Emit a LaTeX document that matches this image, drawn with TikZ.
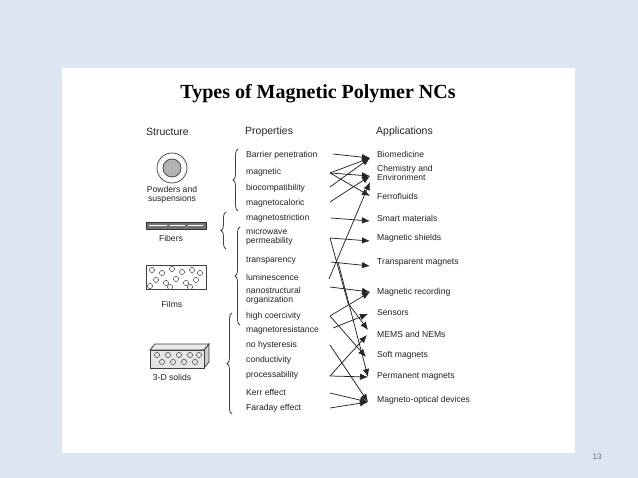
\documentclass[tikz,border=0pt]{standalone}
\usepackage{fontspec}
\setmainfont{Liberation Serif}
\newfontfamily\sansf{Liberation Sans}
\usetikzlibrary{arrows.meta,decorations.pathreplacing}
\definecolor{slidebg}{HTML}{DCE6F2}
\definecolor{txt}{HTML}{222222}
\begin{document}
\begin{tikzpicture}[x=1pt,y=-1pt,
  lbl/.style={font=\sansf\fontsize{8.6}{9}\selectfont,text=txt,anchor=west,inner sep=0,align=left},
  clbl/.style={font=\sansf\fontsize{8.6}{9}\selectfont,text=txt,inner sep=0,align=center},
  hdr/.style={font=\sansf\fontsize{10.5}{12}\selectfont,text=txt,anchor=west,inner sep=0},
  arr/.style={draw=black!85,line width=0.75pt,-{Latex[length=8pt,width=6.5pt]}},
  brc/.style={draw=black!75,line width=0.8pt,decorate,decoration={brace,amplitude=5pt}}]
\useasboundingbox (0,0) rectangle (638,478);
\fill[slidebg] (0,0) rectangle (638,478);
\fill[white] (62,68) rectangle (575,453);
\node (pg) [font=\sansf\fontsize{8}{9}\selectfont,text=black!60] at (597,457) {13};
\node (title) [font=\bfseries\fontsize{20}{24}\selectfont] at (318,94) {Types of Magnetic Polymer NCs};
\node (hs) [hdr] at (146,132) {Structure};
\node (hp) [hdr] at (245,132) {Properties};
\node (ha) [hdr] at (376,132) {Applications};
% icons
\draw[black!70,line width=0.8pt] (172,168) circle (15);
\draw[black!70,fill=black!30,line width=0.8pt] (172,168) circle (9);
\node (ipow) [clbl] at (172,195) {Powders and\\suspensions};
\draw[black!80,fill=black!55] (146,222) rectangle (206,229);
\draw[white,line width=0.6pt] (149,225)--(167,225) (170,225)--(185,225) (188,225)--(203,225);
\node (ifib) [clbl] at (171,238) {Fibers};
\draw[black!75,line width=0.8pt] (146,265) rectangle (206,289);
\foreach \x/\y in {152/270,162/273,172/269,182/272,192/270,200/273,156/280,166/283,176/279,186/283,196/280,150/286,170/287,190/287}
  \draw[black!70,line width=0.5pt] (\x,\y) circle (2.6);
\node (ifil) [clbl] at (172,304) {Films};
\draw[black!75,line width=0.8pt,fill=black!8] (150,350) -- (155,344) -- (209,344) -- (204,350) -- cycle;
\draw[black!75,line width=0.8pt,fill=black!20] (204,350) -- (209,344) -- (209,362) -- (204,368) -- cycle;
\draw[black!75,line width=0.8pt,fill=black!10] (150,350) rectangle (204,368);
\foreach \x/\y in {157/355,168/355,179/355,190/355,199/355,162/362,173/362,184/362,195/362}
  \draw[black!70,line width=0.5pt] (\x,\y) circle (2.6);
\node (isol) [clbl] at (172,377) {3-D solids};
% braces
\draw[brc] (238,211) -- (238,149);
\draw[brc] (226,249) -- (226,212);
\draw[brc] (240,325) -- (240,227);
\draw[brc] (232,414) -- (232,313);
% properties
\node (p1) [lbl] at (246,155) {Barrier penetration};
\node (p2) [lbl] at (246,172) {magnetic};
\node (p3) [lbl] at (246,188) {biocompatibility};
\node (p4) [lbl] at (246,203) {magnetocaloric};
\node (p5) [lbl] at (246,218) {magnetostriction};
\node (p6) [lbl] at (246,237) {microwave\\permeability};
\node (p7) [lbl] at (246,261) {transparency};
\node (p8) [lbl] at (246,277) {luminescence};
\node (p9) [lbl] at (246,296) {nanostructural\\organization};
\node (p10) [lbl] at (246,316) {high coercivity};
\node (p11) [lbl] at (246,330) {magnetoresistance};
\node (p12) [lbl] at (246,345) {no hysteresis};
\node (p13) [lbl] at (246,360) {conductivity};
\node (p14) [lbl] at (246,375) {processability};
\node (p15) [lbl] at (246,392) {Kerr effect};
\node (p16) [lbl] at (246,408) {Faraday effect};
% applications
\node (a1) [lbl] at (377,154) {Biomedicine};
\node (a2) [lbl] at (377,173) {Chemistry and\\Environment};
\node (a3) [lbl] at (377,196) {Ferrofluids};
\node (a4) [lbl] at (377,218) {Smart materials};
\node (a5) [lbl] at (377,238) {Magnetic shields};
\node (a6) [lbl] at (377,262) {Transparent magnets};
\node (a7) [lbl] at (377,292) {Magnetic recording};
\node (a8) [lbl] at (377,313) {Sensors};
\node (a9) [lbl] at (377,334) {MEMS and NEMs};
\node (a10) [lbl] at (377,355) {Soft magnets};
\node (a11) [lbl] at (377,376) {Permanent magnets};
\node (a12) [lbl] at (377,400) {Magneto-optical devices};
% connector end points
\coordinate (s1) at (333,154);
\coordinate (s2) at (330,173);
\coordinate (s3) at (330,187);
\coordinate (s4) at (330,202);
\coordinate (s5) at (331,218);
\coordinate (s6) at (330,238);
\coordinate (s6b) at (329,279);
\coordinate (s7) at (331,262);
\coordinate (s8) at (338,262);
\coordinate (s9) at (330,287);
\coordinate (s10) at (330,316);
\coordinate (s11) at (333,328);
\coordinate (s12) at (330,345);
\coordinate (s13) at (330,376);
\coordinate (s14) at (330,393);
\coordinate (s15) at (330,408);
\coordinate (t1) at (370,158);
\coordinate (t2) at (370,176);
\coordinate (t2b) at (370,182);
\coordinate (t3) at (370,196);
\coordinate (t4) at (370,221);
\coordinate (t5) at (370,241);
\coordinate (t6) at (370,266);
\coordinate (t7) at (370,292);
\coordinate (t8) at (368,314);
\coordinate (t9) at (368,330);
\coordinate (t9b) at (367,335);
\coordinate (t10) at (366,357);
\coordinate (t11) at (368,377);
\coordinate (t12) at (368,402);
\coordinate (x1) at (348,303);
% connectors
\draw[arr] (s1) -- (t1);
\draw[arr] (s2) -- (t1);
\draw[arr] (s2) -- (t2);
\draw[arr] (s2) -- (t3);
\draw[arr] (s3) -- (t1);
\draw[arr] (s4) -- (t2);
\draw[arr] (s5) -- (t4);
\draw[arr] (s6) -- (t5);
\draw[draw=black!85,line width=0.75pt] (s6) -- (x1);
\draw[arr] (s6b) -- (t2b);
\draw[arr] (s7) -- (t6);
\draw[arr] (s8) -- (t11);
\draw[arr] (s9) -- (t7);
\draw[arr] (s10) -- (t7);
\draw[arr] (s10) -- (t10);
\draw[arr] (s11) -- (t8);
\draw[arr] (s12) -- (t12);
\draw[arr] (s13) -- (t9b);
\draw[arr] (s13) -- (t11);
\draw[arr] (s14) -- (t12);
\draw[arr] (s15) -- (t12);
\draw[arr] (x1) -- (t9);
\end{tikzpicture}
\end{document}
